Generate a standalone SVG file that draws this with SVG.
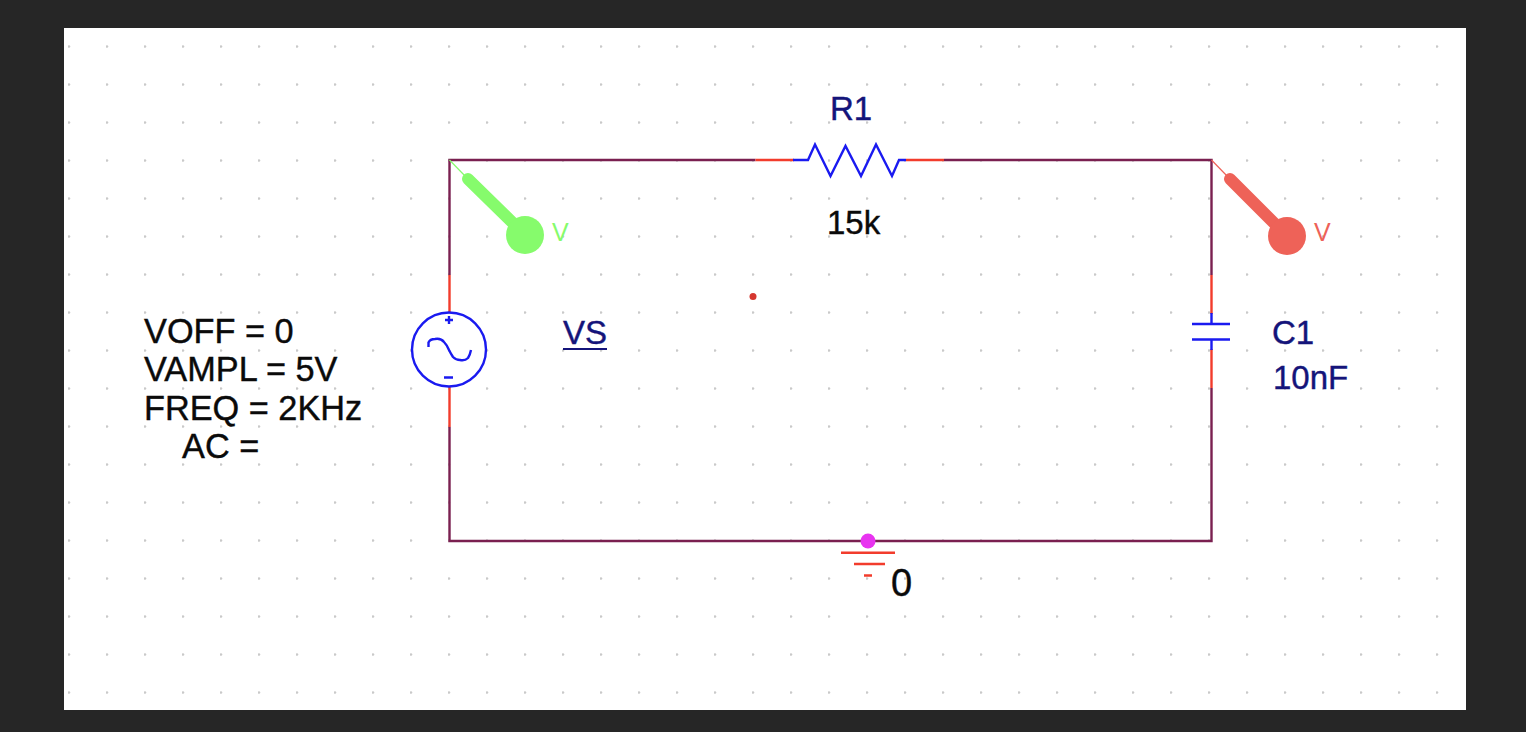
<svg xmlns="http://www.w3.org/2000/svg" width="1526" height="732" viewBox="0 0 1526 732">
<style>
text{font-family:"Liberation Sans",Arial,sans-serif;font-size:33px;stroke-width:.4px}
.blk{fill:#0a0a0a;stroke:#0a0a0a}
.par{font-size:34.300px}
.nv{fill:#14147a;stroke:#14147a}
.wire,.pin,.sym{fill:none}
.wire{stroke:#7a2050;stroke-width:2.400}
.pin{stroke:#f23c2c;stroke-width:2.400}
.sym{stroke:#1a1af0;stroke-width:2.400}
.pv{font-size:25px}
</style>
<defs>
<pattern id="grid" x="68" y="46" width="38" height="38" patternUnits="userSpaceOnUse">
<circle cx="1" cy="0.5" r="1.3" fill="#c9c9c9"/>
<circle cx="1" cy="38.5" r="1.3" fill="#c9c9c9"/>
</pattern>
</defs>
<rect width="1526" height="732" fill="#262626"/>
<rect x="64" y="28" width="1402" height="682" fill="#fff"/>
<rect x="64" y="28" width="1402" height="682" fill="url(#grid)"/>
<g id="connectors">
<path class="wire" d="M449.500 275V160H755.500M944 160H1211.500V275M1211.500 388V541H449.500V427"/>
</g>
<g id="VS">
<path class="pin" d="M449.500 275V313M449.500 387V427"/>
<circle class="sym" cx="449" cy="349.500" r="37"/>
<path class="sym" d="M445 320H453M449 316V324M444 377.500H453"/>
<path class="sym" d="M428.500 347V342.500Q430 339 435 339Q441 338 444 342Q447 345 449 350Q451 354 453 357Q456 360 460 360Q465 361 468 358Q470 355 471 350"/>
<text class="nv" x="563" y="344">VS</text>
<rect x="563" y="348" width="44" height="2" fill="#14147a"/>
<text class="blk par" x="144" y="343">VOFF = 0</text>
<text class="blk par" x="144" y="381">VAMPL = 5V</text>
<text class="blk par" x="144" y="420">FREQ = 2KHz</text>
<text class="blk par" x="182" y="458">AC =</text>
</g>
<g id="R1">
<path class="pin" d="M755.500 160H794M906 160H944"/>
<path class="sym" d="M793 160H808L815 144.500L830.500 176L845.500 146L861 176L876 144.500L892 176L899 160H906"/>
<text class="nv" x="830" y="120">R1</text>
<text class="blk" x="827" y="234">15k</text>
</g>
<g id="C1">
<path class="pin" d="M1211.500 275V314M1211.500 349V388"/>
<path class="sym" d="M1211.500 313V324M1192 324H1230M1192 339.500H1230M1211.500 339.500V350"/>
<text class="nv" x="1272" y="344">C1</text>
<text class="nv" x="1273" y="389">10nF</text>
</g>
<g id="ground">
<path d="M841 552.700H895M854 564H885M864 575.500H872" fill="none" stroke="#f23c2c" stroke-width="2.400"/>
<circle cx="868" cy="541" r="7.500" fill="#e833f0"/>
<text class="blk" x="891" y="596" style="font-size:38px">0</text>
</g>
<g id="probe-green">
<path d="M449.500 160L466 177" stroke="#86fb6c" stroke-width="1.200"/>
<path d="M468 179L520 230" stroke="#86fb6c" stroke-width="12" stroke-linecap="round"/>
<circle cx="525" cy="235" r="19" fill="#86fb6c"/>
<text class="pv" x="552" y="241" fill="#86fb6c">V</text>
</g>
<g id="probe-red">
<path d="M1211.500 160L1228 177" stroke="#ee6258" stroke-width="1.200"/>
<path d="M1230 179L1282 231" stroke="#ee6258" stroke-width="12" stroke-linecap="round"/>
<circle cx="1287" cy="236" r="19" fill="#ee6258"/>
<text class="pv" x="1314" y="241" fill="#ee6258">V</text>
</g>
<g id="marker-dot"><circle cx="753" cy="296.500" r="3.500" fill="#d5372f"/></g>
</svg>
